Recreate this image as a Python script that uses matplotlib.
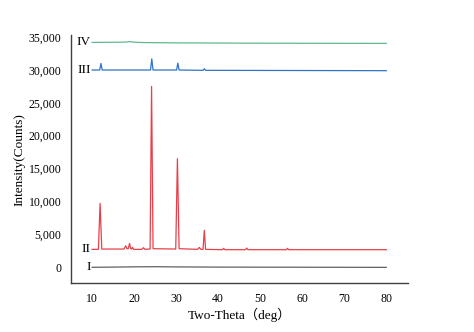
import matplotlib
matplotlib.use('Agg')
import matplotlib.pyplot as plt

# two-theta / intensity points
x_I = [10, 15, 20, 25, 30, 40, 50, 60, 70, 80]
y_I = [-30, 0, 40, 60, 30, 0, -10, -20, -30, -40]

x_II = [10, 11.5, 11.9, 12.3, 17.6, 18.0, 18.3, 18.6, 18.9, 19.2, 19.4, 19.6, 19.9,
        21.8, 22.2, 22.6, 23.8, 24.15, 24.5, 29.9, 30.3, 30.7, 35.1, 35.5, 35.9,
        36.4, 36.7, 37.0, 41.0, 41.3, 41.6, 46.5, 46.8, 47.1, 56.2, 56.5, 56.8, 80]
y_II = [2700, 2700, 9700, 2750, 2750, 3250, 2800, 2800, 3600, 2800, 2750, 3000, 2700,
        2700, 2950, 2700, 2750, 27500, 2800, 2750, 16500, 2800, 2700, 3000, 2700,
        2700, 5600, 2700, 2650, 2850, 2650, 2650, 2900, 2650, 2650, 2850, 2650, 2650]

x_III = [10, 11.8, 12.1, 12.4, 23.9, 24.2, 24.5, 30.1, 30.4, 30.7, 36.4, 36.7, 37.0, 80]
y_III = [30000, 30000, 31000, 30000, 30000, 31700, 30000, 30000, 31050, 30000,
         29950, 30200, 29950, 29900]

x_IV = [10, 16, 18.3, 19, 19.7, 22, 30, 50, 80]
y_IV = [34200, 34230, 34260, 34330, 34250, 34180, 34130, 34080, 34050]

series_labels = ['I', 'II', 'III', 'IV']
y_ticks = [0, 5000, 10000, 15000, 20000, 25000, 30000, 35000]
x_ticks = [10, 20, 30, 40, 50, 60, 70, 80]

serif = ['Liberation Serif', 'Noto Sans CJK SC']
plt.rcParams['font.family'] = serif

fig = plt.figure(figsize=(4.74, 3.32), dpi=100)
ax = fig.add_axes([0.15, 0.147, 0.711, 0.747])

ax.plot(x_I, y_I, color='#606060', lw=0.9)
ax.plot(x_II, y_II, color='#e8404a', lw=0.9)
ax.plot(x_III, y_III, color='#2f74c8', lw=0.9)
ax.plot(x_IV, y_IV, color='#5fb98c', lw=0.9)

starts = [y_I[0], y_II[0], y_III[0], y_IV[0]]
for lab, y0 in zip(series_labels, starts):
    ax.text(9.7, y0, lab, ha='right', va='center', fontsize=9.5)

ax.set_xlim(5, 85.2)
ax.set_ylim(-2450, 35300)
ax.set_xticks(x_ticks)
ax.set_yticks(y_ticks)
ax.set_yticklabels(['{:,}'.format(v) for v in y_ticks])
ax.tick_params(length=0, labelsize=8.5, pad=7)
for s in ['top', 'right']:
    ax.spines[s].set_visible(False)
for s in ['left', 'bottom']:
    ax.spines[s].set_color('#404040')
    ax.spines[s].set_linewidth(1.0)

ax.set_xlabel('Two-Theta（deg）', fontsize=9.5, labelpad=2)
ax.set_ylabel('Intensity(Counts)', fontsize=9.5, labelpad=2)

fig.savefig('out.png', dpi=100)
